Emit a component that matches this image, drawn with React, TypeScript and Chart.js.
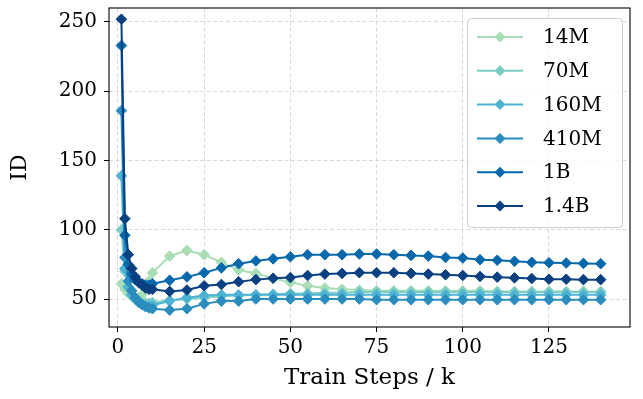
import React, { useEffect, useRef } from "react";
import { Chart, registerables } from "chart.js";

Chart.register(...registerables);

const steps = [1, 2, 3, 4, 5, 6, 7, 8, 9, 10, 15, 20, 25, 30, 35, 40, 45, 50, 55, 60, 65, 70, 75, 80, 85, 90, 95, 100, 105, 110, 115, 120, 125, 130, 135, 140];

const seriesLabels = ["14M", "70M", "160M", "410M", "1B", "1.4B"];
const seriesColors = ["#a8ddb5", "#7bccc4", "#4eb3d3", "#2b8cbe", "#0868ac", "#084081"];

const id14M = [61, 57, 54, 52, 51, 51, 53, 57, 63, 69, 81, 85, 82, 76.5, 71, 68.5, 65, 62, 59.5, 58, 57, 56.5, 56, 56, 56, 56, 56, 56, 56, 55.5, 55.5, 55.5, 55.5, 55.5, 55.5, 55.5];
const id70M = [100, 70, 58, 53, 50, 48, 47, 47, 47, 47.5, 49, 50, 51, 52, 52.5, 53, 53.5, 54, 54, 54.5, 54.5, 55, 55, 55, 55, 55, 55, 55, 55, 55, 55, 55, 55, 55, 55, 55];
const id160M = [139, 72, 59, 53, 50, 47.5, 46, 45, 45, 45.5, 48.5, 51, 52.5, 53, 53, 53, 53, 53, 53, 53, 53, 53, 53, 53, 53, 53, 53, 53, 53, 53, 53, 53, 53, 53, 53, 53];
const id410M = [186, 80, 63, 56, 51, 48, 46, 44.5, 43.5, 43, 42, 43, 46.5, 48.5, 48.5, 50, 50, 50, 50, 50, 50, 50, 49.5, 49.5, 49.5, 49.5, 49.5, 49.5, 49.5, 49.5, 49.5, 49.5, 49.5, 49.5, 49.5, 49.5];
const id1B = [233, 96, 75, 68, 64, 62, 61, 60, 60, 61, 63.5, 66, 69, 72.5, 75.5, 77.5, 79, 80.5, 82, 82, 82, 82.5, 82.5, 82, 81.5, 81, 80, 79.6, 78.4, 78, 77.2, 76.5, 76.2, 76, 75.7, 75.5];
const id14B = [252, 108, 82, 72, 66, 62, 60, 58, 57, 57, 55.5, 56.5, 59.5, 60.5, 62.5, 64, 65, 65.5, 67, 68, 68.5, 69, 69, 69, 68.5, 68, 67.5, 67, 66.3, 65.8, 65.3, 64.8, 64.3, 64.3, 64, 64];

const allSeries = [id14M, id70M, id160M, id410M, id1B, id14B];

const xTicks = [0, 25, 50, 75, 100, 125];
const yTicks = [50, 100, 150, 200, 250];

const FONT = "'DejaVu Serif', serif";

const framePlugin = {
  id: "frame",
  afterDatasetsDraw(chart: any) {
    const { ctx, chartArea: a } = chart;
    ctx.save();
    ctx.strokeStyle = "#000";
    ctx.lineWidth = 1.1;
    ctx.strokeRect(a.left, a.top, a.right - a.left, a.bottom - a.top);
    ctx.restore();
  },
};

const legendPlugin = {
  id: "boxLegend",
  afterDraw(chart: any) {
    const ctx = chart.ctx;
    const x0 = 467.5, y0 = 18.5, w = 155, h = 209, r = 4;
    ctx.save();
    ctx.beginPath();
    ctx.moveTo(x0 + r, y0);
    ctx.lineTo(x0 + w - r, y0);
    ctx.arcTo(x0 + w, y0, x0 + w, y0 + r, r);
    ctx.lineTo(x0 + w, y0 + h - r);
    ctx.arcTo(x0 + w, y0 + h, x0 + w - r, y0 + h, r);
    ctx.lineTo(x0 + r, y0 + h);
    ctx.arcTo(x0, y0 + h, x0, y0 + h - r, r);
    ctx.lineTo(x0, y0 + r);
    ctx.arcTo(x0, y0, x0 + r, y0, r);
    ctx.closePath();
    ctx.fillStyle = "rgba(255,255,255,0.8)";
    ctx.fill();
    ctx.strokeStyle = "#cccccc";
    ctx.lineWidth = 1;
    ctx.stroke();
    chart.data.datasets.forEach((ds: any, i: number) => {
      const cy = 37 + i * 33.8;
      ctx.strokeStyle = ds.borderColor;
      ctx.lineWidth = 2;
      ctx.beginPath();
      ctx.moveTo(477, cy);
      ctx.lineTo(523, cy);
      ctx.stroke();
      const rr = 5.5;
      ctx.beginPath();
      ctx.moveTo(500 - rr, cy);
      ctx.lineTo(500, cy - rr);
      ctx.lineTo(500 + rr, cy);
      ctx.lineTo(500, cy + rr);
      ctx.closePath();
      ctx.fillStyle = ds.backgroundColor;
      ctx.fill();
      ctx.fillStyle = "#000";
      ctx.font = `20px ${FONT}`;
      ctx.textBaseline = "middle";
      ctx.textAlign = "left";
      ctx.fillText(ds.label, 543, cy + 1);
    });
    ctx.restore();
  },
};

const zeroPad = (scale: any) => {
  scale.paddingTop = 0;
  scale.paddingBottom = 0;
  scale.paddingLeft = 0;
  scale.paddingRight = 0;
};

export default function App() {
  const ref = useRef<HTMLCanvasElement>(null);
  useEffect(() => {
    document.body.style.margin = "0";
    if (!ref.current) return;
    const datasets = allSeries.map((vals, i) => ({
      label: seriesLabels[i],
      data: steps.map((s, j) => ({ x: s, y: vals[j] })),
      borderColor: seriesColors[i],
      backgroundColor: seriesColors[i],
      pointBackgroundColor: seriesColors[i],
      pointBorderColor: seriesColors[i],
      borderWidth: 2,
      pointStyle: "rectRot",
      pointRadius: 5.3,
      pointBorderWidth: 1,
      tension: 0,
      fill: false,
      order: seriesLabels.length - 1 - i,
    }));
    const chart = new Chart(ref.current, {
      type: "line",
      data: { datasets },
      options: {
        animation: false,
        responsive: false,
        devicePixelRatio: 1,
        layout: { padding: { left: 0, top: 8, right: 13, bottom: 0 } },
        plugins: { legend: { display: false }, tooltip: { enabled: false } },
        scales: {
          x: {
            type: "linear",
            min: -2.6,
            max: 148.5,
            afterBuildTicks: (axis: any) => {
              axis.ticks = xTicks.map((v) => ({ value: v }));
            },
            afterFit: (scale: any) => {
              scale.height = 72;
              zeroPad(scale);
            },
            grid: {
              color: "#cfcfcf",
              lineWidth: 0.8,
              drawTicks: true,
              tickLength: 5,
              tickColor: "#000",
              tickWidth: 1,
            },
            border: { display: false, dash: [4, 2.5] },
            ticks: { color: "#000", font: { family: FONT, size: 20 }, padding: 4, maxRotation: 0 },
            title: {
              display: true,
              text: "Train Steps / k",
              color: "#000",
              font: { family: FONT, size: 23 },
              padding: { top: 0, bottom: 7 },
            },
          },
          y: {
            type: "linear",
            min: 29.8,
            max: 260.1,
            afterBuildTicks: (axis: any) => {
              axis.ticks = yTicks.map((v) => ({ value: v }));
            },
            afterFit: (scale: any) => {
              scale.width = 109;
              zeroPad(scale);
            },
            grid: {
              color: "#cfcfcf",
              lineWidth: 0.8,
              drawTicks: true,
              tickLength: 5,
              tickColor: "#000",
              tickWidth: 1,
            },
            border: { display: false, dash: [4, 2.5] },
            ticks: { color: "#000", font: { family: FONT, size: 20 }, padding: 7 },
            title: {
              display: true,
              text: "ID",
              color: "#000",
              font: { family: FONT, size: 22 },
              padding: { top: 7, bottom: 0 },
            },
          },
        },
      },
      plugins: [framePlugin, legendPlugin],
    } as any);
    return () => chart.destroy();
  }, []);
  return (
    <div style={{ width: 643, height: 399 }}>
      <canvas ref={ref} width={643} height={399} />
    </div>
  );
}
